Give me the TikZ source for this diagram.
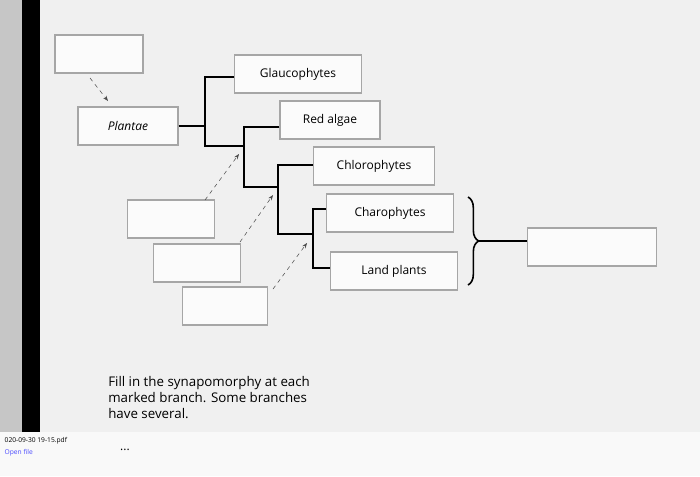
\documentclass[tikz,border=0pt]{standalone}
\usepackage{fontspec}
\setmainfont{Open Sans}
\usetikzlibrary{decorations.pathreplacing,arrows.meta}
\begin{document}
\begin{tikzpicture}[x=0.75pt,y=-0.75pt,
  box/.style={draw=gray!70,fill=white!97!gray,line width=0.8pt,minimum height=28.5pt,inner sep=0pt,font=\small},
  tree/.style={line width=1.6pt,black},
  darr/.style={dashed,-{Stealth[length=4pt]},thin,black!70}]
\fill[gray!12] (0,0) rectangle (700,476);
\fill[gray!45] (0,0) rectangle (22,432);
\fill[black] (22,0) rectangle (40,432);
\fill[gray!5] (0,432) rectangle (700,476);
\node[anchor=west,font=\tiny] (fn) at (0,441) {020-09-30 19-15.pdf};
\node[anchor=west,font=\tiny,text=blue!70] (of) at (0,453) {Open file};
\node[font=\small] (dots) at (125,450) {...};
% boxes
\node[box,minimum width=66pt] (e1) at (99,54) {};
\node[box,minimum width=75pt,font=\small\itshape] (pl) at (128,126) {Plantae};
\node[box,minimum width=95pt] (gl) at (298,74) {Glaucophytes};
\node[box,minimum width=75pt] (ra) at (330,120) {Red algae};
\node[box,minimum width=91pt] (ch) at (374,166) {Chlorophytes};
\node[box,minimum width=95pt] (cp) at (390,213) {Charophytes};
\node[box,minimum width=95pt] (lp) at (394,271) {Land plants};
\node[box,minimum width=65pt] (e2) at (171,219) {};
\node[box,minimum width=65pt] (e3) at (197,263) {};
\node[box,minimum width=64pt] (e4) at (225,306) {};
\node[box,minimum width=97pt] (e5) at (592,247) {};
% tree
\coordinate (r) at (205,126);
\draw[tree] (pl.east) -- (r);
\draw[tree] (gl.west |- 0,77) -- (205,77) -- (205,146) -- (244,146);
\draw[tree] (ra.west |- 0,127) -- (244,127) -- (244,187) -- (278,187);
\draw[tree] (ch.west |- 0,165) -- (278,165) -- (278,234) -- (313,234);
\draw[tree] (cp.west |- 0,209) -- (313,209) -- (313,268) -- (lp.west |- 0,268);
% arrows
\coordinate (a1s) at (90,78); \coordinate (a1e) at (108,101);
\draw[darr] (a1s) -- (a1e);
\coordinate (a2s) at (205,200); \coordinate (a2e) at (239,154);
\draw[darr] (a2s) -- (a2e);
\coordinate (a3s) at (240,242); \coordinate (a3e) at (273,195);
\draw[darr] (a3s) -- (a3e);
\coordinate (a4s) at (273,289); \coordinate (a4e) at (307,243);
\draw[darr] (a4s) -- (a4e);
% brace
\draw[line width=1.2pt,decorate,decoration={brace,amplitude=8pt}] (468,197) -- (468,285);
\coordinate (bt) at (478,241);
\draw[line width=1.2pt] (bt) -- (e5.west |- bt);
% text
\node[anchor=north west,align=left,font=\normalsize,inner sep=0pt] (txt) at (108,376)
  {Fill in the synapomorphy at each\\marked branch. Some branches\\have several.};
\end{tikzpicture}
\end{document}
